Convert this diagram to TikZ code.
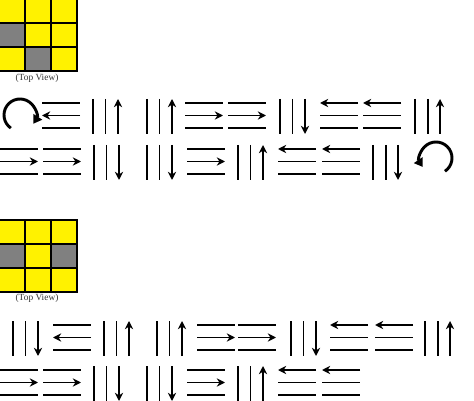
\documentclass[tikz,border=0pt]{standalone}
\usepackage{fontspec}
\setmainfont{Liberation Serif}
\usetikzlibrary{arrows.meta}

\begin{document}
\begin{tikzpicture}[x=0.03cm,y=-0.03cm,>={Stealth[length=7pt,width=7pt]},
       bars/.style={line width=1.7pt},
       turn/.style={line width=2.5pt,-{Triangle[length=7pt,width=8.5pt]}},
       cell/.style={draw,line width=1pt,fill=yellow},
       lmid/.pic={\draw[bars] (0,0) -- (38,0) (0,25) -- (38,25);
                  \draw[bars,->] (38,12.5) -- (0,12.5);},
       rmid/.pic={\draw[bars] (0,0) -- (38,0) (0,25) -- (38,25);
                  \draw[bars,->] (0,12.5) -- (38,12.5);},
       ltop/.pic={\draw[bars] (0,12.5) -- (38,12.5) (0,25) -- (38,25);
                  \draw[bars,->] (38,0) -- (0,0);},
       vup/.pic={\draw[bars] (0,-4) -- (0,31) (12.5,-4) -- (12.5,31);
                 \draw[bars,->] (25,31) -- (25,-4);},
       vdown/.pic={\draw[bars] (0,-4) -- (0,31) (12.5,-4) -- (12.5,31);
                   \draw[bars,->] (25,-4) -- (25,31);}]
       \useasboundingbox (0,0) rectangle (474,401);
       % first top view
       \foreach \i in {0,1,2}
         \foreach \j in {0,1,2}
           \draw[cell] (-1+26*\i,-1+24*\j) rectangle +(26,24);
       \draw[cell,fill=gray] (-1,23) rectangle +(26,24);
       \draw[cell,fill=gray] (25,47) rectangle +(26,24);
       \node (topview1) at (37,78) [text=black!80,font=\fontsize{8}{9}\selectfont]{(Top View)};
       % second top view
       \foreach \i in {0,1,2}
         \foreach \j in {0,1,2}
           \draw[cell] (-1+26*\i,220+24*\j) rectangle +(26,24);
       \draw[cell,fill=gray] (-1,244) rectangle +(26,24);
       \draw[cell,fill=gray] (51,244) rectangle +(26,24);
       \node (topview2) at (37,298) [text=black!80,font=\fontsize{8}{9}\selectfont]{(Top View)};
       % first sequence
       \coordinate (cwturn) at (20,115);
       \draw[turn] (cwturn) ++(125:16) arc [start angle=125, end angle=393, radius=16];
       \foreach \x/\k in {42/lmid,93/vup,147/vup,185/rmid,228/rmid,280/vdown,320/ltop,363/ltop,415/vup}
         \path (\x,103) pic {\k};
       \foreach \x/\k in {0/rmid,43/rmid,94/vdown,147/vdown,187/rmid,238/vup,278/ltop,322/ltop,373/vdown}
         \path (\x,149) pic {\k};
       \coordinate (ccwturn) at (436,158);
       \draw[turn] (ccwturn) ++(56:16) arc [start angle=56, end angle=-214, radius=16];
       % second sequence
       \foreach \x/\k in {13/vdown,53/lmid,104/vup,157/vup,197/rmid,238/rmid,291/vdown,330/ltop,375/ltop,425/vup}
         \path (\x,325) pic {\k};
       \foreach \x/\k in {0/rmid,43/rmid,94/vdown,147/vdown,187/rmid,238/vup,278/ltop,322/ltop}
         \path (\x,370) pic {\k};
\end{tikzpicture}
\end{document}
